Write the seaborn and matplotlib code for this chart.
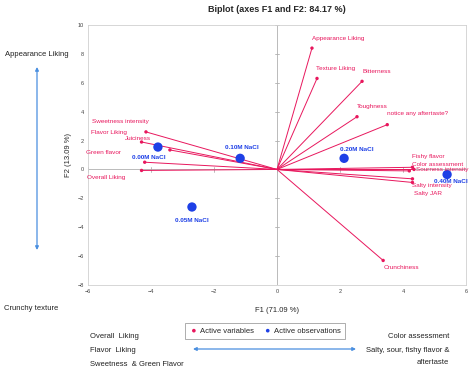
import numpy as np
import pandas as pd
import matplotlib
matplotlib.use("Agg")
import matplotlib.pyplot as plt
import seaborn as sns

# PCA biplot coordinates (F1, F2)
var_names = ["Appearance Liking", "Texture Liking", "Bitterness", "Toughness",
             "notice any aftertaste?", "Fishy flavor", "Color assessment",
             "Sourness intensity", "Salty intensity", "Salty JAR", "Crunchiness",
             "Sweetness intensity", "Flavor Liking", "Juiciness", "Green flavor",
             "Overall Liking"]
var_f1 = [1.11, 1.27, 2.70, 2.54, 3.50, 4.30, 4.20, 4.35, 4.30, 4.30, 3.37,
          -4.16, -4.30, -3.40, -4.20, -4.30]
var_f2 = [8.40, 6.30, 6.10, 3.65, 3.10, 0.15, -0.10, 0.00, -0.65, -0.90, -6.30,
          2.60, 1.90, 1.35, 0.50, -0.07]

obs_names = ["0.00M NaCl", "0.10M NaCl", "0.20M NaCl", "0.40M NaCl", "0.05M NaCl"]
obs_f1 = [-3.78, -1.17, 2.13, 5.40, -2.70]
obs_f2 = [1.55, 0.77, 0.77, -0.35, -2.60]

x_ticks = [-6, -4, -2, 0, 2, 4, 6]
y_ticks = [-8, -6, -4, -2, 0, 2, 4, 6, 8, 10]

# label placement (pixel offsets from the point, alignment)
var_offsets = {
    "Appearance Liking": (0, 10, "left"), "Texture Liking": (-1, 10, "left"),
    "Bitterness": (0, 10, "left"), "Toughness": (0, 10, "left"),
    "notice any aftertaste?": (0, 11, "left"), "Fishy flavor": (0, 11, "left"),
    "Color assessment": (3, 6, "left"), "Sourness intensity": (2, 0, "left"),
    "Salty intensity": (0, -7, "left"), "Salty JAR": (2, -11, "left"),
    "Crunchiness": (0, -7, "left"), "Sweetness intensity": (3, 10, "right"),
    "Flavor Liking": (-15, 10, "right"), "Juiciness": (-19, 11, "right"),
    "Green flavor": (-24, 10, "right"), "Overall Liking": (-16, -7, "right"),
}
obs_offsets = {
    "0.00M NaCl": (-9, -10), "0.10M NaCl": (2, 11), "0.20M NaCl": (13, 9),
    "0.40M NaCl": (4, -7), "0.05M NaCl": (0, -13),
}

RED = "#E8175D"
BLUE = "#1E40E6"
ARROW = "#4A8FE0"

sns.set_style("white")
plt.rcParams["font.family"] = ["Liberation Sans", "DejaVu Sans"]

df_var = pd.DataFrame({"F1": var_f1, "F2": var_f2, "name": var_names})
df_obs = pd.DataFrame({"F1": obs_f1, "F2": obs_f2, "name": obs_names})

fig = plt.figure(figsize=(4.74, 3.71), dpi=100)
ax = fig.add_axes([88 / 474, 1 - 285 / 371, 378 / 474, 260 / 371])

ax.axhline(0, color="#B0B0B0", lw=0.6, zorder=0)
ax.axvline(0, color="#B0B0B0", lw=0.6, zorder=0)
# small tick marks on the zero axes
for t in x_ticks:
    ax.plot([t, t], [-0.18, 0.18], color="#B0B0B0", lw=0.6, zorder=0)
for t in y_ticks:
    ax.plot([-0.07, 0.07], [t, t], color="#B0B0B0", lw=0.6, zorder=0)

for x, y in zip(var_f1, var_f2):
    ax.plot([0, x], [0, y], color=RED, lw=0.7, zorder=1)

sns.scatterplot(data=df_var, x="F1", y="F2", color=RED, s=6, edgecolor="none",
                ax=ax, zorder=3, label="Active variables")
sns.scatterplot(data=df_obs, x="F1", y="F2", color=BLUE, s=45, edgecolor="none",
                ax=ax, zorder=3, label="Active observations")

for name, x, y in zip(var_names, var_f1, var_f2):
    dx, dy, ha = var_offsets[name]
    ax.annotate(name, (x, y), xytext=(dx, dy), textcoords="offset pixels",
                ha=ha, va="center", fontsize=4.6, color=RED)
for name, x, y in zip(obs_names, obs_f1, obs_f2):
    dx, dy = obs_offsets[name]
    ax.annotate(name, (x, y), xytext=(dx, dy), textcoords="offset pixels",
                ha="center", va="center", fontsize=4.6, color=BLUE,
                fontweight="bold")

ax.set_xlim(-6, 6)
ax.set_ylim(-8, 10)
ax.set_xticks(x_ticks)
ax.set_yticks(y_ticks)
ax.tick_params(length=0, labelsize=4, colors="#444444", pad=3)
for s in ax.spines.values():
    s.set_color("#D0D0D0")
    s.set_linewidth(0.6)
ax.set_xlabel("F1 (71.09 %)", fontsize=5.5, labelpad=9)
ax.set_ylabel("F2 (13.09 %)", fontsize=5.5, labelpad=4)
ax.set_title("Biplot (axes F1 and F2: 84.17 %)", fontsize=6.5,
             fontweight="bold", pad=9)

leg = ax.legend(loc="center", bbox_to_anchor=(265 / 474, 1 - 331 / 371),
                bbox_transform=fig.transFigure, ncol=2, fontsize=5.5,
                frameon=True, fancybox=False, edgecolor="#888888",
                handletextpad=0.2, columnspacing=1.2, borderpad=0.6,
                handlelength=1.2)
leg.get_frame().set_linewidth(0.6)
for h in leg.legend_handles:
    h.set_sizes([7])

# interpretation notes around the plot
txt = dict(fontsize=5.5, color="#222222", va="center")
fig.text(5 / 474, 1 - 55 / 371, "Appearance Liking", **txt)
fig.text(4 / 474, 1 - 308 / 371, "Crunchy texture", **txt)
fig.text(90 / 474, 1 - 337 / 371, "Overall  Liking", **txt)
fig.text(90 / 474, 1 - 351 / 371, "Flavor  Liking", **txt)
fig.text(90 / 474, 1 - 364 / 371, "Sweetness  & Green Flavor", **txt)
fig.text(449 / 474, 1 - 337 / 371, "Color assessment", ha="right", **txt)
fig.text(449 / 474, 1 - 350 / 371, "Salty, sour, fishy flavor &", ha="right", **txt)
fig.text(449 / 474, 1 - 362 / 371, "aftertaste", ha="right", **txt)

arrow = dict(arrowstyle="<|-|>", color=ARROW, lw=0.9, mutation_scale=5,
             shrinkA=0, shrinkB=0)
ax.annotate("", xy=(37 / 474, 1 - 67 / 371), xytext=(37 / 474, 1 - 250 / 371),
            xycoords="figure fraction", arrowprops=arrow, annotation_clip=False)
ax.annotate("", xy=(193 / 474, 1 - 349 / 371), xytext=(356 / 474, 1 - 349 / 371),
            xycoords="figure fraction", arrowprops=arrow, annotation_clip=False)

fig.savefig("out.png", dpi=100)
